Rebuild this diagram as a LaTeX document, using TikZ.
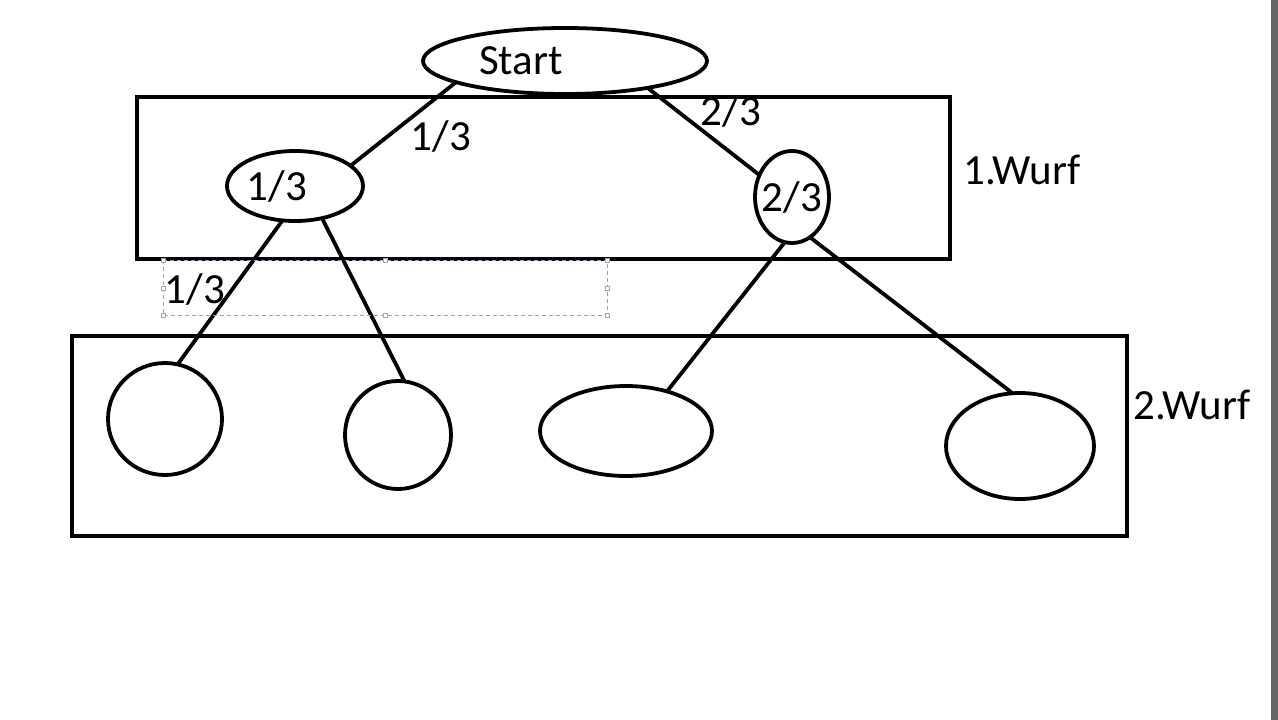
\documentclass[tikz,border=0pt]{standalone}
\usepackage{fontspec}
\setmainfont{Carlito}
\usetikzlibrary{shapes.geometric}
\begin{document}
\begin{tikzpicture}[x=1pt,y=-1pt,
  lw/.style={line width=3.8pt},
  ell/.style={ellipse,draw,lw,inner sep=0pt,outer sep=0pt,font=\fontsize{43}{50}\selectfont},
  lbl/.style={inner sep=0pt,font=\fontsize{43}{50}\selectfont},
  frame/.style={draw,lw},
  conn/.style={draw,lw},
  handle/.style={draw=gray!70,fill=white,line width=0.6pt,minimum size=4pt,inner sep=0pt,rectangle}]
\fill[white] (0,0) rectangle (1278,720);
\useasboundingbox (0,0) rectangle (1278,720);
% right screenshot strip
\fill[black!60] (1271,0) rectangle (1278,720);
% frames
\draw[frame] (137,97) rectangle (950,259);
\draw[frame] (72,336) rectangle (1127,536);
% nodes
\node[ell,minimum width=284pt,minimum height=66pt] (start) at (565,61) {\makebox[0pt]{\hspace*{-88pt}Start}};
\node[ell,minimum width=136pt,minimum height=70pt] (a) at (295,186) {\makebox[0pt]{\hspace*{-36pt}1/3}};
\node[ell,minimum width=74pt,minimum height=92pt] (b) at (792,197) {\makebox[0pt]{2/3}};
\node[ell,minimum width=114pt,minimum height=112pt] (c1) at (165,419) {};
\node[ell,minimum width=106pt,minimum height=108pt] (c2) at (398,435) {};
\node[ell,minimum width=172pt,minimum height=90pt] (c3) at (626,431) {};
\node[ell,minimum width=148pt,minimum height=106pt] (c4) at (1020,446) {};
% connectors
\draw[conn] (start.191) -- (a.20);
\draw[conn] (start.-18) -- (b.146);
\draw[conn] (a.-110) -- (c1.77);
\draw[conn] (a.-50) -- (c2.83);
\draw[conn] (b.-99) -- (c3.44);
\draw[conn] (b.-66) -- (c4.98);
% labels
\node[lbl] (l1) at (441,136) {1/3};
\node[lbl] (l2) at (731,111) {2/3};
\node[lbl] (w1) at (1022,170) {1.Wurf};
\node[lbl] (w2) at (1192,405) {2.Wurf};
% selected text box
\draw[draw=blue!30!gray!60,line width=0.8pt,dash pattern=on 4pt off 3pt] (163,260) rectangle (607,315);
\node[lbl] (l3) at (195,289) {1/3};
\foreach \p in {(163,260),(385,260),(607,260),(163,288),(607,288),(163,315),(385,315),(607,315)}
  \node[handle] at \p {};
\end{tikzpicture}
\end{document}
